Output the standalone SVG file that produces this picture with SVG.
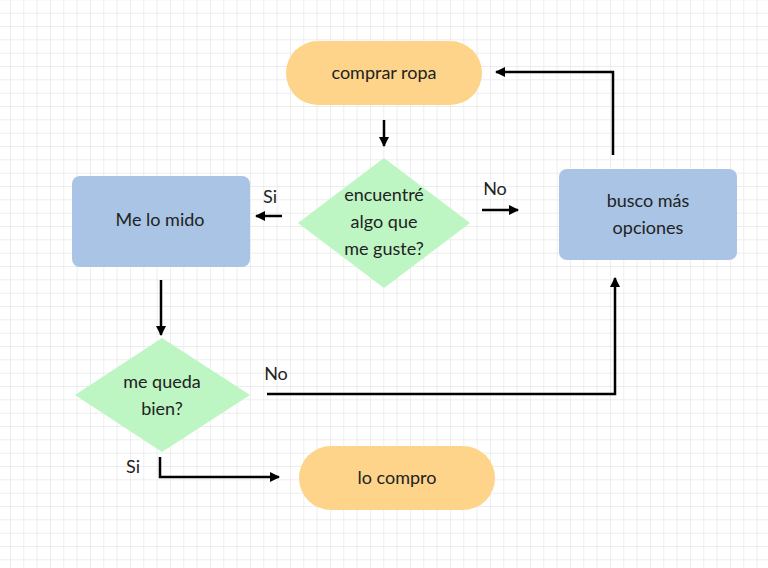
<svg xmlns="http://www.w3.org/2000/svg" width="768" height="568" viewBox="0 0 768 568">
<defs>
<pattern id="g" x="10" y="12.7" width="13.333" height="13.333" patternUnits="userSpaceOnUse">
<path d="M0 0H13.333M0 0V13.333" fill="none" stroke="#dcdcdc" stroke-width="1"/>
</pattern>
<marker id="a" viewBox="0 0 10 10" refX="9" refY="5" markerWidth="4" markerHeight="4" orient="auto"><path d="M0 0L10 5L0 10z" fill="#000"/></marker>
<style>
text{font-family:Lato,"Open Sans",sans-serif;font-size:18px;fill:#222;text-anchor:middle}
.c{fill:none;stroke:#000;stroke-width:2.5;marker-end:url(#a)}
.t{fill:#fdd489}.b{fill:#a9c4e4}.d{fill:#bdf5c3}
</style>
</defs>
<rect width="768" height="568" fill="#fff"/>
<rect width="768" height="568" fill="url(#g)"/>
<g id="n1"><rect class="t" x="286" y="41" width="196" height="64" rx="32"/><text x="384" y="79">comprar ropa</text></g>
<g id="n2"><path class="d" d="M384 158L470 223L384 288L298 223Z"/><text x="384" y="201">encuentré</text><text x="384" y="228">algo que</text><text x="384" y="255">me guste?</text></g>
<g id="n3"><rect class="b" x="72" y="176" width="178" height="91" rx="8"/><text x="160" y="226">Me lo mido</text></g>
<g id="n4"><rect class="b" x="559" y="169" width="178" height="91" rx="8"/><text x="648" y="207">busco más</text><text x="648" y="234">opciones</text></g>
<g id="n5"><path class="d" d="M162 338L250 395L162 452L75 395Z"/><text x="162" y="388">me queda</text><text x="162" y="415">bien?</text></g>
<g id="n6"><rect class="t" x="299" y="446" width="196" height="64" rx="32"/><text x="397" y="484">lo compro</text></g>
<g id="edges">
<path class="c" d="M384 120V146"/>
<path class="c" d="M282 216H256"/>
<path class="c" d="M482 210H518"/>
<path class="c" d="M613 155V72H496"/>
<path class="c" d="M161 280V335"/>
<path class="c" d="M267 394H615V278"/>
<path class="c" d="M160 457V477H279"/>
<text x="270" y="203">Si</text>
<text x="495" y="195">No</text>
<text x="276" y="380">No</text>
<text x="133" y="473">Si</text>
</g>
</svg>
